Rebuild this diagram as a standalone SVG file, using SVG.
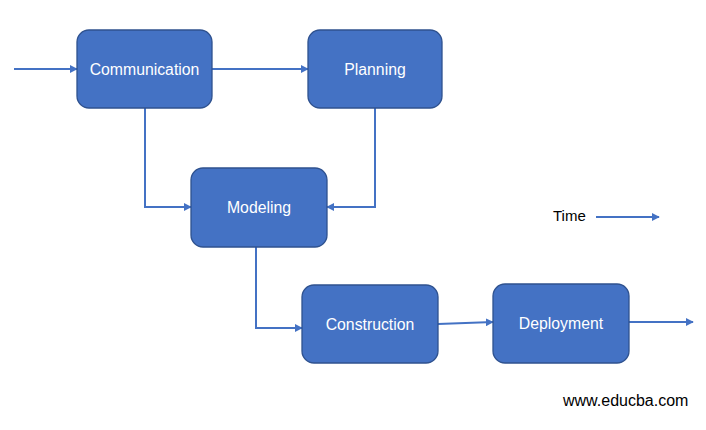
<svg xmlns="http://www.w3.org/2000/svg" width="706" height="430" viewBox="0 0 706 430">
<style>
.box{fill:#4472C4;stroke:#2F528F;stroke-width:1.3}
.lbl{font-family:"Liberation Sans",Arial,sans-serif;font-size:15.8px;fill:#fff;text-anchor:middle}
.txt{font-family:"Liberation Sans",Arial,sans-serif;font-size:15px;fill:#000}
.con{fill:none;stroke:#4472C4;stroke-width:2;marker-end:url(#ah)}
</style>
<defs>
<marker id="ah" viewBox="0 0 10 10" refX="9" refY="5" markerWidth="4" markerHeight="4" orient="auto" markerUnits="strokeWidth">
<path d="M0,0 L10,5 L0,10 z" fill="#4472C4"/>
</marker>
</defs>
<rect width="706" height="430" fill="#fff"/>
<g id="connectors">
<path class="con" d="M14,69 H77"/>
<path class="con" d="M212,69 H308"/>
<path class="con" d="M145,108 V207 H191"/>
<path class="con" d="M375,108 V207 H327"/>
<path class="con" d="M256,247 V328 H302"/>
<path class="con" d="M438,324 L493,322"/>
<path class="con" d="M629,322 H693"/>
<path class="con" d="M596,217 H659"/>
</g>
<g id="communication">
<rect class="box" x="77" y="30" width="135" height="78" rx="12"/>
<text class="lbl" x="144.5" y="75">Communication</text>
</g>
<g id="planning">
<rect class="box" x="308" y="30" width="134" height="78" rx="12"/>
<text class="lbl" x="375" y="75">Planning</text>
</g>
<g id="modeling">
<rect class="box" x="191" y="168" width="136" height="79" rx="12"/>
<text class="lbl" x="259" y="213">Modeling</text>
</g>
<g id="construction">
<rect class="box" x="302" y="285" width="136" height="78" rx="12"/>
<text class="lbl" x="370" y="330">Construction</text>
</g>
<g id="deployment">
<rect class="box" x="493" y="284" width="136" height="79" rx="12"/>
<text class="lbl" x="561" y="329">Deployment</text>
</g>
<g id="time">
<text class="txt" x="553" y="221">Time</text>
</g>
<text class="txt" x="563" y="406" style="font-size:16px">www.educba.com</text>
</svg>
